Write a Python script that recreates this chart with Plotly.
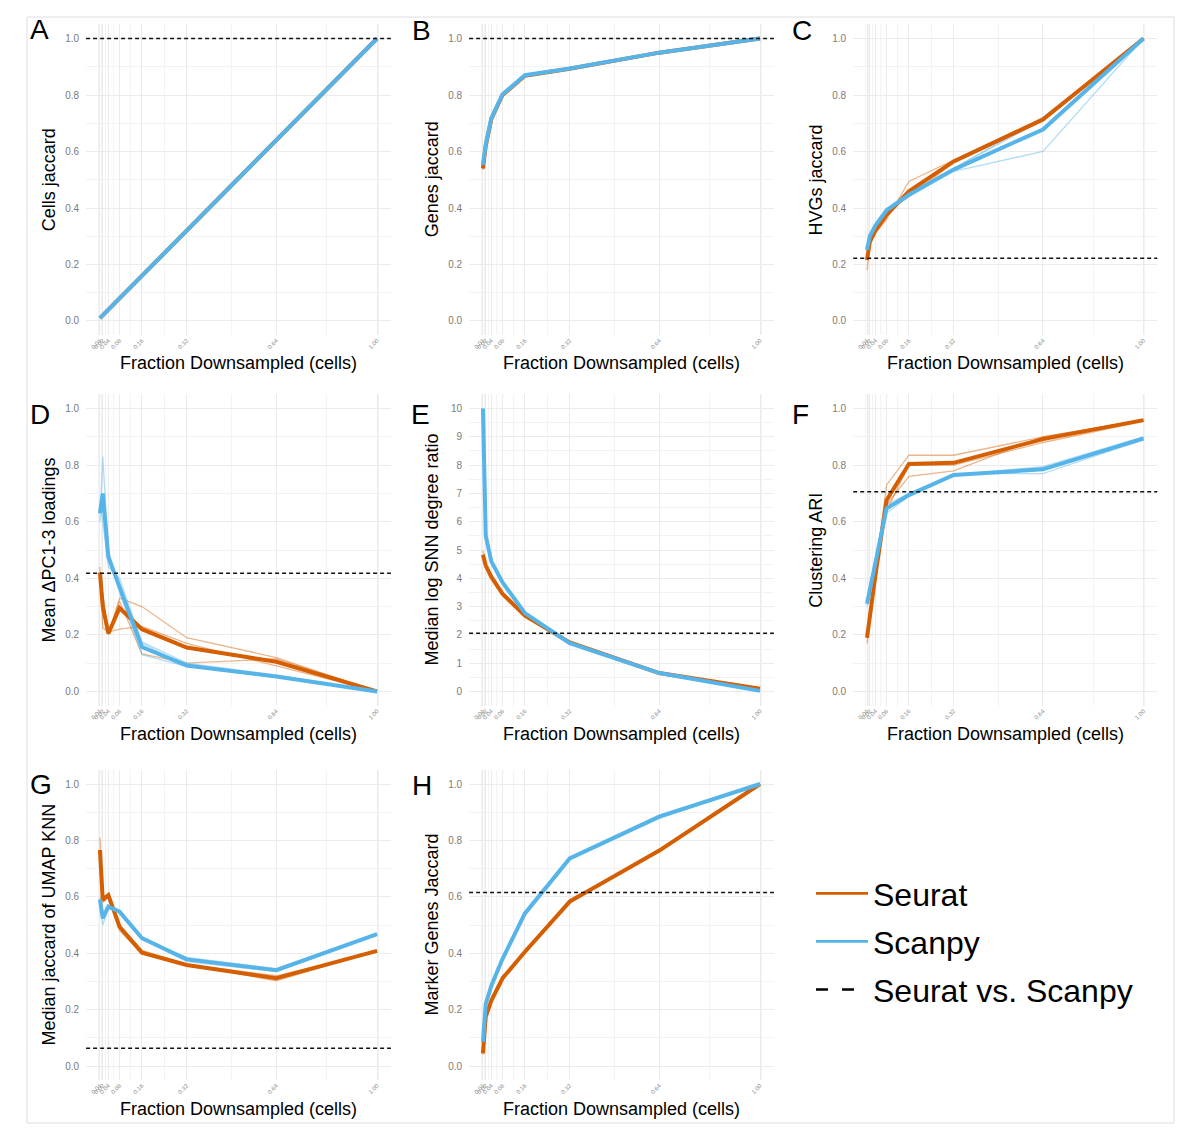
import plotly.graph_objects as go

# page offset of the plot inside the browser page (default body margin)
OFF = 8
W, H = 1192, 1131
FONT = "Liberation Sans, Arial, Helvetica, sans-serif"
SEURAT = "#D55E00"
SCANPY = "#56B4E9"
SEURAT_THIN = "rgba(213,94,0,0.45)"
SCANPY_THIN = "rgba(86,180,233,0.45)"

# ---------------- data ----------------
x_frac = [0.01, 0.02, 0.04, 0.08, 0.16, 0.32, 0.64, 1.00]
x_tick_labels = ["0.01", "0.02", "0.04", "0.08", "0.16", "0.32", "0.64", "1.00"]
x_minor_breaks = [0.005, 0.015, 0.03, 0.06, 0.12, 0.24, 0.48, 0.82, 1.005]
x_title = "Fraction Downsampled (cells)"

unit_ticks = [0.0, 0.2, 0.4, 0.6, 0.8, 1.0]
unit_tick_labels = ["0.0", "0.2", "0.4", "0.6", "0.8", "1.0"]
unit_minor = [0.1, 0.3, 0.5, 0.7, 0.9]
snn_ticks = [0, 1, 2, 3, 4, 5, 6, 7, 8, 9, 10]
snn_tick_labels = ["0", "1", "2", "3", "4", "5", "6", "7", "8", "9", "10"]
snn_minor = [0.5, 1.5, 2.5, 3.5, 4.5, 5.5, 6.5, 7.5, 8.5, 9.5]

panel_letters = ["A", "B", "C", "D", "E", "F", "G", "H"]
y_titles = ["Cells jaccard", "Genes jaccard", "HVGs jaccard",
            "Mean \u0394PC1-3 loadings", "Median log SNN degree ratio", "Clustering ARI",
            "Median jaccard of UMAP KNN", "Marker Genes Jaccard"]
legend_names = ["Seurat", "Scanpy", "Seurat vs. Scanpy"]

# Seurat vs. Scanpy reference value per panel
ref_values = [1.0, 1.0, 0.222, 0.418, 2.06, 0.706, 0.063, 0.615]

# A  Cells jaccard
A_seurat = [0.01, 0.02, 0.04, 0.08, 0.16, 0.32, 0.64, 1.00]
A_scanpy = [0.01, 0.02, 0.04, 0.08, 0.16, 0.32, 0.64, 1.00]
A_seurat_reps = [[0.01, 0.02, 0.04, 0.08, 0.16, 0.32, 0.64, 1.00]]
A_scanpy_reps = [[0.01, 0.02, 0.04, 0.08, 0.16, 0.32, 0.64, 1.00]]

# B  Genes jaccard
B_seurat = [0.540, 0.620, 0.715, 0.800, 0.868, 0.893, 0.950, 1.0]
B_scanpy = [0.552, 0.625, 0.718, 0.803, 0.870, 0.894, 0.950, 1.0]
B_seurat_reps = [[0.535, 0.618, 0.714, 0.800, 0.867, 0.893, 0.950, 1.0],
                 [0.545, 0.622, 0.716, 0.801, 0.869, 0.894, 0.951, 1.0]]
B_scanpy_reps = [[0.550, 0.624, 0.717, 0.802, 0.870, 0.894, 0.950, 1.0],
                 [0.554, 0.626, 0.719, 0.804, 0.871, 0.895, 0.951, 1.0]]

# C  HVGs jaccard
C_seurat = [0.216, 0.280, 0.320, 0.376, 0.459, 0.565, 0.713, 1.0]
C_scanpy = [0.252, 0.300, 0.338, 0.392, 0.447, 0.536, 0.678, 1.0]
C_seurat_reps = [[0.180, 0.270, 0.310, 0.360, 0.494, 0.570, 0.720, 1.0],
                 [0.230, 0.285, 0.325, 0.385, 0.440, 0.560, 0.710, 1.0],
                 [0.235, 0.290, 0.325, 0.380, 0.450, 0.565, 0.712, 1.0]]
C_scanpy_reps = [[0.250, 0.300, 0.335, 0.390, 0.440, 0.530, 0.600, 1.0],
                 [0.255, 0.302, 0.340, 0.395, 0.450, 0.540, 0.712, 1.0],
                 [0.250, 0.298, 0.338, 0.392, 0.450, 0.540, 0.720, 1.0]]

# D  Mean dPC1-3 loadings
D_seurat = [0.420, 0.300, 0.205, 0.295, 0.220, 0.155, 0.105, 0.0]
D_scanpy = [0.630, 0.700, 0.475, 0.370, 0.157, 0.092, 0.053, 0.0]
D_seurat_reps = [[0.440, 0.225, 0.210, 0.220, 0.230, 0.170, 0.090, 0.0],
                 [0.420, 0.340, 0.200, 0.330, 0.300, 0.190, 0.120, 0.0],
                 [0.400, 0.330, 0.205, 0.320, 0.133, 0.100, 0.115, 0.0]]
D_scanpy_reps = [[0.600, 0.830, 0.500, 0.350, 0.130, 0.088, 0.050, 0.0],
                 [0.650, 0.600, 0.440, 0.400, 0.175, 0.100, 0.058, 0.0],
                 [0.660, 0.660, 0.470, 0.360, 0.170, 0.090, 0.052, 0.0]]

# E  Median log SNN degree ratio
E_seurat = [4.83, 4.45, 4.05, 3.45, 2.68, 1.73, 0.65, 0.10]
E_scanpy = [10.0, 5.50, 4.60, 3.85, 2.77, 1.71, 0.65, 0.02]
E_seurat_reps = [[4.98, 4.50, 4.08, 3.47, 2.70, 1.74, 0.66, 0.10],
                 [4.70, 4.40, 4.02, 3.43, 2.66, 1.72, 0.64, 0.10]]
E_scanpy_reps = [[10.0, 5.45, 4.58, 3.84, 2.76, 1.70, 0.64, 0.02],
                 [10.0, 5.55, 4.62, 3.86, 2.78, 1.72, 0.66, 0.02]]

# F  Clustering ARI
F_seurat = [0.190, 0.270, 0.410, 0.676, 0.804, 0.808, 0.892, 0.959]
F_scanpy = [0.310, 0.360, 0.450, 0.647, 0.694, 0.765, 0.785, 0.894]
F_seurat_reps = [[0.170, 0.260, 0.420, 0.730, 0.835, 0.835, 0.900, 0.960],
                 [0.190, 0.270, 0.400, 0.660, 0.760, 0.780, 0.900, 0.960],
                 [0.200, 0.280, 0.410, 0.640, 0.800, 0.800, 0.880, 0.955]]
F_scanpy_reps = [[0.300, 0.360, 0.450, 0.630, 0.690, 0.770, 0.770, 0.890],
                 [0.310, 0.350, 0.440, 0.650, 0.700, 0.760, 0.790, 0.895],
                 [0.320, 0.370, 0.460, 0.660, 0.700, 0.765, 0.795, 0.900]]

# G  Median jaccard of UMAP KNN
G_seurat = [0.766, 0.589, 0.606, 0.494, 0.402, 0.358, 0.311, 0.408]
G_scanpy = [0.591, 0.524, 0.565, 0.547, 0.453, 0.378, 0.340, 0.468]
G_seurat_reps = [[0.810, 0.580, 0.600, 0.480, 0.398, 0.360, 0.302, 0.410],
                 [0.750, 0.590, 0.610, 0.500, 0.400, 0.355, 0.310, 0.410],
                 [0.740, 0.600, 0.610, 0.500, 0.410, 0.360, 0.320, 0.405]]
G_scanpy_reps = [[0.590, 0.500, 0.560, 0.550, 0.460, 0.380, 0.340, 0.470],
                 [0.580, 0.530, 0.570, 0.540, 0.450, 0.370, 0.335, 0.465],
                 [0.600, 0.540, 0.560, 0.550, 0.450, 0.385, 0.345, 0.470]]

# H  Marker Genes Jaccard
H_seurat = [0.045, 0.175, 0.232, 0.311, 0.405, 0.583, 0.764, 1.0]
H_scanpy = [0.086, 0.220, 0.285, 0.380, 0.541, 0.736, 0.884, 1.0]
H_seurat_reps = [[0.040, 0.170, 0.240, 0.320, 0.400, 0.590, 0.760, 1.0],
                 [0.050, 0.180, 0.225, 0.305, 0.410, 0.578, 0.768, 1.0]]
H_scanpy_reps = [[0.080, 0.215, 0.280, 0.378, 0.538, 0.732, 0.878, 1.0],
                 [0.090, 0.225, 0.290, 0.382, 0.544, 0.740, 0.890, 1.0]]

seurat_means = [A_seurat, B_seurat, C_seurat, D_seurat, E_seurat, F_seurat, G_seurat, H_seurat]
scanpy_means = [A_scanpy, B_scanpy, C_scanpy, D_scanpy, E_scanpy, F_scanpy, G_scanpy, H_scanpy]
seurat_reps = [A_seurat_reps, B_seurat_reps, C_seurat_reps, D_seurat_reps,
               E_seurat_reps, F_seurat_reps, G_seurat_reps, H_seurat_reps]
scanpy_reps = [A_scanpy_reps, B_scanpy_reps, C_scanpy_reps, D_scanpy_reps,
               E_scanpy_reps, F_scanpy_reps, G_scanpy_reps, H_scanpy_reps]

# ---------------- layout geometry (page pixels) ----------------
col_left = [86.1, 469.1, 853.2]
col_right = [390.9, 773.9, 1157.3]
row_top = [24.4, 394.4, 769.9]
row_bottom = [335.1, 705.6, 1080.1]
x_title_y = [363, 733.5, 1108.5]
letter_pos = [(39, 29), (421, 30), (802, 30), (40, 414.5), (420.5, 414), (800, 415), (41, 784), (421.5, 785)]

def px(xp):
    return (xp - OFF) / W

def py(yp):
    return 1 - (yp - OFF) / H

fig = go.Figure()
layout = dict(
    width=W, height=H, margin=dict(l=0, r=0, t=0, b=0),
    paper_bgcolor="white", plot_bgcolor="white",
    font=dict(family=FONT, color="black"),
    showlegend=True,
)
annotations = []
shapes = []

for i in range(8):
    r, c = divmod(i, 3)
    n = "" if i == 0 else str(i + 1)
    xa, ya = "x" + n, "y" + n
    for rep in seurat_reps[i]:
        fig.add_trace(go.Scatter(x=x_frac, y=rep, mode="lines", xaxis=xa, yaxis=ya,
                                 line=dict(color=SEURAT_THIN, width=1.3), showlegend=False,
                                 hoverinfo="skip"))
    for rep in scanpy_reps[i]:
        fig.add_trace(go.Scatter(x=x_frac, y=rep, mode="lines", xaxis=xa, yaxis=ya,
                                 line=dict(color=SCANPY_THIN, width=1.3), showlegend=False,
                                 hoverinfo="skip"))
    fig.add_trace(go.Scatter(x=x_frac, y=seurat_means[i], mode="lines", xaxis=xa, yaxis=ya,
                             name="Seurat", line=dict(color=SEURAT, width=4), showlegend=False))
    fig.add_trace(go.Scatter(x=x_frac, y=scanpy_means[i], mode="lines", xaxis=xa, yaxis=ya,
                             name="Scanpy", line=dict(color=SCANPY, width=4), showlegend=False))

    shapes.append(dict(type="line", xref=xa + " domain", x0=0, x1=1, yref=ya,
                       y0=ref_values[i], y1=ref_values[i], layer="above",
                       line=dict(color="#111111", width=1.4, dash="4px,3px")))

    is_snn = (i == 4)
    layout["xaxis" + n] = dict(
        domain=[px(col_left[c]), px(col_right[c])], anchor=ya,
        range=[-0.0395, 1.0495], tickmode="array", tickvals=x_frac, ticktext=x_tick_labels,
        tickangle=-45, tickfont=dict(size=6, color="#8a8a8a"), ticks="",
        showgrid=True, gridcolor="#ebebeb", gridwidth=1, zeroline=False, showline=False,
        minor=dict(tickmode="array", tickvals=x_minor_breaks, showgrid=True,
                   gridcolor="#f3f3f3", gridwidth=1),
    )
    layout["yaxis" + n] = dict(
        domain=[py(row_bottom[r]), py(row_top[r])], anchor=xa,
        range=[-0.5, 10.5] if is_snn else [-0.05, 1.05],
        tickmode="array",
        tickvals=snn_ticks if is_snn else unit_ticks,
        ticktext=snn_tick_labels if is_snn else unit_tick_labels,
        tickfont=dict(size=10, color="#7a7a7a"), ticks="", ticklabelstandoff=6,
        showgrid=True, gridcolor="#ebebeb", gridwidth=1, zeroline=False, showline=False,
        minor=dict(tickmode="array", tickvals=snn_minor if is_snn else unit_minor,
                   showgrid=True, gridcolor="#f3f3f3", gridwidth=1),
    )
    cx = (col_left[c] + col_right[c]) / 2
    cy = (row_top[r] + row_bottom[r]) / 2
    annotations.append(dict(text=x_title, xref="paper", yref="paper", x=px(cx), y=py(x_title_y[r]),
                            xanchor="center", yanchor="middle", showarrow=False,
                            font=dict(size=18, color="black", family=FONT)))
    annotations.append(dict(text=y_titles[i], xref="paper", yref="paper", x=px(col_left[c] - 37.5),
                            y=py(cy), textangle=-90, xanchor="center", yanchor="middle",
                            showarrow=False, font=dict(size=18, color="black", family=FONT)))
    lx, ly = letter_pos[i]
    annotations.append(dict(text=panel_letters[i], xref="paper", yref="paper", x=px(lx), y=py(ly),
                            xanchor="center", yanchor="middle", showarrow=False,
                            font=dict(size=28, color="black", family=FONT)))

# legend entries
fig.add_trace(go.Scatter(x=[None], y=[None], mode="lines", name=legend_names[0], legendgroup="g1",
                         line=dict(color=SEURAT, width=2.7)))
fig.add_trace(go.Scatter(x=[None], y=[None], mode="lines", name=legend_names[1], legendgroup="g2",
                         line=dict(color=SCANPY, width=2.7)))
fig.add_trace(go.Scatter(x=[None], y=[None], mode="lines", name=legend_names[2], legendgroup="g3",
                         line=dict(color="black", width=2.5, dash="12px,14px")))

layout["legend"] = dict(x=px(811), y=py(866), xanchor="left", yanchor="top",
                        font=dict(size=32, family=FONT, color="black"),
                        bgcolor="rgba(0,0,0,0)", tracegroupgap=3.5, itemwidth=52,
                        itemclick=False)

# outer frame
shapes.append(dict(type="rect", xref="paper", yref="paper", x0=px(27), x1=px(1174),
                   y0=py(1123), y1=py(17), line=dict(color="#dedede", width=1),
                   fillcolor="rgba(0,0,0,0)", layer="below"))

layout["annotations"] = annotations
layout["shapes"] = shapes
fig.update_layout(**layout)
fig.write_html("out.html")
